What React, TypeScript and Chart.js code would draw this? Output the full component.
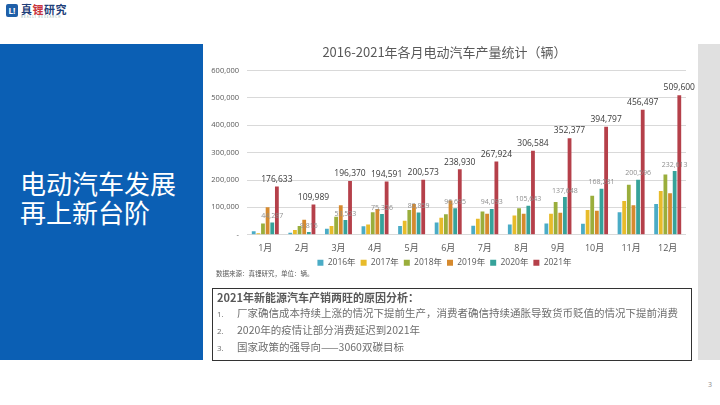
import React, { useEffect, useRef } from "react";
import { Chart, registerables } from "chart.js";

Chart.register(...registerables);

const months = ["1月", "2月", "3月", "4月", "5月", "6月", "7月", "8月", "9月", "10月", "11月", "12月"];
const seriesNames = ["2016年", "2017年", "2018年", "2019年", "2020年", "2021年"];
const y2016 = [13000, 7000, 22000, 31000, 32000, 45000, 33000, 37000, 41000, 40000, 82000, 112000];
const y2017 = [5000, 17000, 32000, 37000, 51000, 62000, 58000, 70000, 77000, 90000, 123000, 160000];
const y2018 = [41000, 32000, 66000, 82000, 90000, 75000, 85000, 97000, 120000, 142000, 183000, 220000];
const y2019 = [100000, 55000, 108000, 94000, 112000, 125000, 77000, 77000, 80000, 88000, 108000, 152000];
const y2020 = [44287, 9815, 53523, 75326, 80859, 96695, 94093, 105643, 137648, 168281, 200596, 232613];
const y2021 = [176633, 109989, 196370, 194591, 200573, 238930, 267924, 306584, 352377, 394797, 456497, 509600];
const seriesColors = ["#4bacc6", "#e8bb2a", "#9aae3c", "#d68a2e", "#36a29a", "#b5404a"];
const yTicks = [0, 100000, 200000, 300000, 400000, 500000, 600000];

const reasonsTitle = "2021年新能源汽车产销两旺的原因分析：";
const reasons = [
  "厂家确信成本持续上涨的情况下提前生产，消费者确信持续通胀导致货币贬值的情况下提前消费",
  "2020年的疫情让部分消费延迟到2021年",
  "国家政策的强导向——3060双碳目标",
];

const FONT = "'Open Sans', 'Noto Sans CJK SC', sans-serif";
const CJK = "'Noto Sans CJK SC', 'Open Sans', sans-serif";

const fmt = (v: number) => v.toLocaleString("en-US");

const labelPlugin = {
  id: "barLabels",
  afterDatasetsDraw(chart: any) {
    const ctx = chart.ctx;
    [4, 5].forEach((di) => {
      const meta = chart.getDatasetMeta(di);
      meta.data.forEach((bar: any, i: number) => {
        const v = chart.data.datasets[di].data[i] as number;
        ctx.save();
        ctx.font = di === 5 ? `8.5px ${FONT}` : `7px ${FONT}`;
        ctx.fillStyle = di === 5 ? "#3a3a3a" : "#8f8f8f";
        ctx.textAlign = "center";
        ctx.textBaseline = "bottom";
        ctx.fillText(fmt(v), bar.x, bar.y - 3);
        ctx.restore();
      });
    });
  },
};

function BarChart() {
  const ref = useRef<HTMLCanvasElement | null>(null);
  useEffect(() => {
    if (!ref.current) return;
    const data = [y2016, y2017, y2018, y2019, y2020, y2021];
    const chart = new Chart(ref.current, {
      type: "bar",
      data: {
        labels: months,
        datasets: seriesNames.map((name, i) => ({
          label: name,
          data: data[i],
          backgroundColor: seriesColors[i],
          borderWidth: 0,
          categoryPercentage: 0.76,
          barPercentage: 0.82,
        })),
      },
      options: {
        responsive: false,
        animation: false,
        devicePixelRatio: 1,
        layout: { padding: { left: 0, right: 12, top: 0, bottom: 0 } },
        plugins: {
          title: {
            display: true,
            text: "2016-2021年各月电动汽车产量统计（辆）",
            color: "#595959",
            font: { family: CJK, size: 13, weight: "normal" },
            padding: { top: 1, bottom: 11 },
          },
          legend: {
            position: "bottom",
            labels: {
              boxWidth: 6,
              boxHeight: 6,
              color: "#595959",
              font: { family: FONT, size: 8.5 },
              padding: 5,
            },
          },
          tooltip: { enabled: false },
        },
        scales: {
          x: {
            grid: { display: false },
            border: { display: false },
            ticks: { color: "#595959", font: { family: FONT, size: 9 }, padding: 0 },
          },
          y: {
            min: 0,
            max: 600000,
            afterBuildTicks: (scale: any) => {
              scale.ticks = yTicks.map((v) => ({ value: v }));
            },
            afterFit: (scale: any) => {
              scale.width = 44;
            },
            grid: { color: "#d9d9d9", drawTicks: false },
            border: { display: false },
            ticks: {
              color: "#595959",
              font: { family: FONT, size: 7.5 },
              padding: 8,
              callback: (v: any) => (Number(v) === 0 ? "-" : fmt(Number(v))),
            },
          },
        },
      },
      plugins: [labelPlugin],
    } as any);
    return () => chart.destroy();
  }, []);
  return <canvas ref={ref} width={495} height={234} style={{ display: "block" }} />;
}

export default function App() {
  return (
    <div style={{ position: "absolute", left: 0, top: 0, width: 720, height: 405, background: "#ffffff", overflow: "hidden", fontFamily: CJK }}>
      {/* logo */}
      <div style={{ position: "absolute", left: 6, top: 4, width: 12, height: 13, background: "#1f5fa8", borderRadius: 2, color: "#fff", fontSize: 8, fontWeight: 700, lineHeight: "13px", textAlign: "center", fontFamily: FONT }}>L!</div>
      <div style={{ position: "absolute", left: 21, top: 2, fontSize: 11, fontWeight: 700, color: "#1f3f7a", lineHeight: "14px", letterSpacing: 0.5 }}>
        真<span style={{ color: "#c8343c" }}>锂</span>研究
      </div>
      <div style={{ position: "absolute", left: 21, top: 15, fontSize: 3, color: "#8aa", lineHeight: "4px", letterSpacing: 1 }}>REALLI RESEARCH</div>

      {/* left blue panel */}
      <div style={{ position: "absolute", left: 0, top: 44, width: 203, height: 316, background: "#0b5fb4" }} />
      <div style={{ position: "absolute", left: 20, top: 169, color: "#ffffff", fontSize: 26, lineHeight: "28.5px", whiteSpace: "nowrap" }}>
        电动汽车发展<br />再上新台阶
      </div>

      {/* right grey strip */}
      <div style={{ position: "absolute", left: 698, top: 44, width: 22, height: 316, background: "#e0e0e0" }} />

      {/* chart */}
      <div style={{ position: "absolute", left: 203, top: 43, width: 495, height: 234 }}>
        <BarChart />
      </div>
      <div style={{ position: "absolute", left: 216, top: 268, fontSize: 6.5, color: "#595959", whiteSpace: "nowrap" }}>数据来源：真锂研究，单位：辆。</div>

      {/* reasons box */}
      <div style={{ position: "absolute", left: 212, top: 288, width: 478, height: 71, border: "1px solid #333333", background: "#fff" }}>
        <div style={{ position: "absolute", left: 4, top: 0, fontSize: 11, fontWeight: 700, color: "#595959", whiteSpace: "nowrap" }}>{reasonsTitle}</div>
        {reasons.map((r, i) => (
          <div key={i} style={{ position: "absolute", left: 4, top: 16 + i * 17, fontSize: 10.5, color: "#6e6e6e", whiteSpace: "nowrap", lineHeight: "15px" }}>
            <span style={{ display: "inline-block", width: 20, fontSize: 8, fontFamily: FONT }}>{i + 1}.</span>
            {r}
          </div>
        ))}
      </div>

      <div style={{ position: "absolute", left: 708, top: 380, fontSize: 7, color: "#8c8c8c", fontFamily: FONT }}>3</div>
    </div>
  );
}
